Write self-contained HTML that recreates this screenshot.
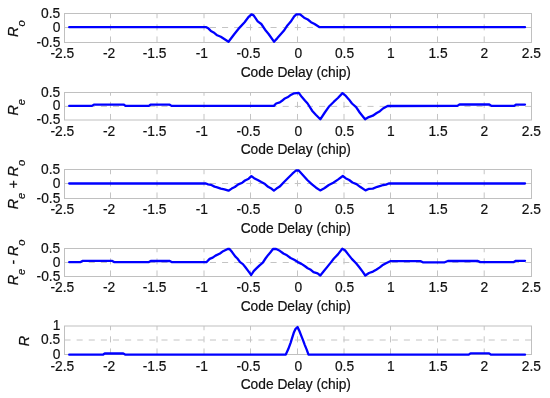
<!DOCTYPE html><html><head><meta charset="utf-8"><style>html,body{margin:0;padding:0;background:#fff;}svg{display:block}text{font-family:"Liberation Sans",Arial,sans-serif;fill:#111;stroke:#111;stroke-width:0.2px}</style></head><body>
<svg width="550" height="398" viewBox="0 0 550 398">
<rect width="550" height="398" fill="#fff"/>
<g stroke="#c4c4c4" stroke-width="1" stroke-dasharray="6.06 6.06" fill="none"><line x1="110.50" y1="42.5" x2="110.50" y2="13.5"/><line x1="157.00" y1="42.5" x2="157.00" y2="13.5"/><line x1="204.00" y1="42.5" x2="204.00" y2="13.5"/><line x1="250.50" y1="42.5" x2="250.50" y2="13.5"/><line x1="297.50" y1="42.5" x2="297.50" y2="13.5"/><line x1="344.00" y1="42.5" x2="344.00" y2="13.5"/><line x1="390.50" y1="42.5" x2="390.50" y2="13.5"/><line x1="437.50" y1="42.5" x2="437.50" y2="13.5"/><line x1="484.20" y1="42.5" x2="484.20" y2="13.5"/><line x1="64.5" y1="27.5" x2="531.5" y2="27.5"/></g>
<rect x="64.5" y="13.5" width="467.0" height="29.0" fill="none" stroke="#c0c0c0" stroke-width="1"/>
<text transform="translate(60.30,17.50) scale(1,1.04)" font-size="13.8" text-anchor="end">0.5</text>
<text transform="translate(60.30,31.50) scale(1,1.04)" font-size="13.8" text-anchor="end">0</text>
<text transform="translate(60.30,46.50) scale(1,1.04)" font-size="13.8" text-anchor="end">-0.5</text>
<text transform="translate(62.40,57.80) scale(1,1.04)" font-size="13.8" text-anchor="middle">-2.5</text>
<text transform="translate(109.07,57.80) scale(1,1.04)" font-size="13.8" text-anchor="middle">-2</text>
<text transform="translate(154.59,57.80) scale(1,1.04)" font-size="13.8" text-anchor="middle">-1.5</text>
<text transform="translate(201.91,57.80) scale(1,1.04)" font-size="13.8" text-anchor="middle">-1</text>
<text transform="translate(248.43,57.80) scale(1,1.04)" font-size="13.8" text-anchor="middle">-0.5</text>
<text transform="translate(298.25,57.80) scale(1,1.04)" font-size="13.8" text-anchor="middle">0</text>
<text transform="translate(344.47,57.80) scale(1,1.04)" font-size="13.8" text-anchor="middle">0.5</text>
<text transform="translate(390.79,57.80) scale(1,1.04)" font-size="13.8" text-anchor="middle">1</text>
<text transform="translate(438.01,57.80) scale(1,1.04)" font-size="13.8" text-anchor="middle">1.5</text>
<text transform="translate(484.38,57.80) scale(1,1.04)" font-size="13.8" text-anchor="middle">2</text>
<text transform="translate(531.45,57.80) scale(1,1.04)" font-size="13.8" text-anchor="middle">2.5</text>
<text transform="translate(295.80,76.50) scale(1,1.04)" font-size="13.8" text-anchor="middle">Code Delay (chip)</text>
<text transform="translate(17.8,28.6) scale(1,1.04) rotate(-90)" font-size="13.8" text-anchor="middle" font-style="italic">R<tspan font-size="10.8" dy="6.9">o</tspan></text>
<g stroke="#c4c4c4" stroke-width="1" stroke-dasharray="6.06 6.06" fill="none"><line x1="110.50" y1="120.0" x2="110.50" y2="92.5"/><line x1="157.00" y1="120.0" x2="157.00" y2="92.5"/><line x1="204.00" y1="120.0" x2="204.00" y2="92.5"/><line x1="250.50" y1="120.0" x2="250.50" y2="92.5"/><line x1="297.50" y1="120.0" x2="297.50" y2="92.5"/><line x1="344.00" y1="120.0" x2="344.00" y2="92.5"/><line x1="390.50" y1="120.0" x2="390.50" y2="92.5"/><line x1="437.50" y1="120.0" x2="437.50" y2="92.5"/><line x1="484.20" y1="120.0" x2="484.20" y2="92.5"/><line x1="64.5" y1="106.4" x2="531.5" y2="106.4"/></g>
<rect x="64.5" y="92.5" width="467.0" height="27.5" fill="none" stroke="#c0c0c0" stroke-width="1"/>
<text transform="translate(60.30,96.50) scale(1,1.04)" font-size="13.8" text-anchor="end">0.5</text>
<text transform="translate(60.30,110.40) scale(1,1.04)" font-size="13.8" text-anchor="end">0</text>
<text transform="translate(60.30,124.00) scale(1,1.04)" font-size="13.8" text-anchor="end">-0.5</text>
<text transform="translate(62.40,135.80) scale(1,1.04)" font-size="13.8" text-anchor="middle">-2.5</text>
<text transform="translate(109.07,135.80) scale(1,1.04)" font-size="13.8" text-anchor="middle">-2</text>
<text transform="translate(154.59,135.80) scale(1,1.04)" font-size="13.8" text-anchor="middle">-1.5</text>
<text transform="translate(201.91,135.80) scale(1,1.04)" font-size="13.8" text-anchor="middle">-1</text>
<text transform="translate(248.43,135.80) scale(1,1.04)" font-size="13.8" text-anchor="middle">-0.5</text>
<text transform="translate(298.25,135.80) scale(1,1.04)" font-size="13.8" text-anchor="middle">0</text>
<text transform="translate(344.47,135.80) scale(1,1.04)" font-size="13.8" text-anchor="middle">0.5</text>
<text transform="translate(390.79,135.80) scale(1,1.04)" font-size="13.8" text-anchor="middle">1</text>
<text transform="translate(438.01,135.80) scale(1,1.04)" font-size="13.8" text-anchor="middle">1.5</text>
<text transform="translate(484.38,135.80) scale(1,1.04)" font-size="13.8" text-anchor="middle">2</text>
<text transform="translate(531.45,135.80) scale(1,1.04)" font-size="13.8" text-anchor="middle">2.5</text>
<text transform="translate(295.80,154.00) scale(1,1.04)" font-size="13.8" text-anchor="middle">Code Delay (chip)</text>
<text transform="translate(17.8,107.2) scale(1,1.04) rotate(-90)" font-size="13.8" text-anchor="middle" font-style="italic">R<tspan font-size="10.8" dy="6.9">e</tspan></text>
<g stroke="#c4c4c4" stroke-width="1" stroke-dasharray="6.06 6.06" fill="none"><line x1="110.50" y1="198.5" x2="110.50" y2="169.5"/><line x1="157.00" y1="198.5" x2="157.00" y2="169.5"/><line x1="204.00" y1="198.5" x2="204.00" y2="169.5"/><line x1="250.50" y1="198.5" x2="250.50" y2="169.5"/><line x1="297.50" y1="198.5" x2="297.50" y2="169.5"/><line x1="344.00" y1="198.5" x2="344.00" y2="169.5"/><line x1="390.50" y1="198.5" x2="390.50" y2="169.5"/><line x1="437.50" y1="198.5" x2="437.50" y2="169.5"/><line x1="484.20" y1="198.5" x2="484.20" y2="169.5"/><line x1="64.5" y1="183.5" x2="531.5" y2="183.5"/></g>
<rect x="64.5" y="169.5" width="467.0" height="29.0" fill="none" stroke="#c0c0c0" stroke-width="1"/>
<text transform="translate(60.30,173.50) scale(1,1.04)" font-size="13.8" text-anchor="end">0.5</text>
<text transform="translate(60.30,187.50) scale(1,1.04)" font-size="13.8" text-anchor="end">0</text>
<text transform="translate(60.30,202.50) scale(1,1.04)" font-size="13.8" text-anchor="end">-0.5</text>
<text transform="translate(62.40,213.80) scale(1,1.04)" font-size="13.8" text-anchor="middle">-2.5</text>
<text transform="translate(109.07,213.80) scale(1,1.04)" font-size="13.8" text-anchor="middle">-2</text>
<text transform="translate(154.59,213.80) scale(1,1.04)" font-size="13.8" text-anchor="middle">-1.5</text>
<text transform="translate(201.91,213.80) scale(1,1.04)" font-size="13.8" text-anchor="middle">-1</text>
<text transform="translate(248.43,213.80) scale(1,1.04)" font-size="13.8" text-anchor="middle">-0.5</text>
<text transform="translate(298.25,213.80) scale(1,1.04)" font-size="13.8" text-anchor="middle">0</text>
<text transform="translate(344.47,213.80) scale(1,1.04)" font-size="13.8" text-anchor="middle">0.5</text>
<text transform="translate(390.79,213.80) scale(1,1.04)" font-size="13.8" text-anchor="middle">1</text>
<text transform="translate(438.01,213.80) scale(1,1.04)" font-size="13.8" text-anchor="middle">1.5</text>
<text transform="translate(484.38,213.80) scale(1,1.04)" font-size="13.8" text-anchor="middle">2</text>
<text transform="translate(531.45,213.80) scale(1,1.04)" font-size="13.8" text-anchor="middle">2.5</text>
<text transform="translate(295.80,232.50) scale(1,1.04)" font-size="13.8" text-anchor="middle">Code Delay (chip)</text>
<text transform="translate(17.8,184.6) scale(1,1.04) rotate(-90)" font-size="13.8" text-anchor="middle" font-style="italic">R<tspan font-size="10.8" dy="6.9">e</tspan><tspan dy="-6.9"> + R</tspan><tspan font-size="10.8" dy="6.9">o</tspan></text>
<g stroke="#c4c4c4" stroke-width="1" stroke-dasharray="6.06 6.06" fill="none"><line x1="110.50" y1="276.5" x2="110.50" y2="248.5"/><line x1="157.00" y1="276.5" x2="157.00" y2="248.5"/><line x1="204.00" y1="276.5" x2="204.00" y2="248.5"/><line x1="250.50" y1="276.5" x2="250.50" y2="248.5"/><line x1="297.50" y1="276.5" x2="297.50" y2="248.5"/><line x1="344.00" y1="276.5" x2="344.00" y2="248.5"/><line x1="390.50" y1="276.5" x2="390.50" y2="248.5"/><line x1="437.50" y1="276.5" x2="437.50" y2="248.5"/><line x1="484.20" y1="276.5" x2="484.20" y2="248.5"/><line x1="64.5" y1="262.5" x2="531.5" y2="262.5"/></g>
<rect x="64.5" y="248.5" width="467.0" height="28.0" fill="none" stroke="#c0c0c0" stroke-width="1"/>
<text transform="translate(60.30,252.50) scale(1,1.04)" font-size="13.8" text-anchor="end">0.5</text>
<text transform="translate(60.30,266.50) scale(1,1.04)" font-size="13.8" text-anchor="end">0</text>
<text transform="translate(60.30,280.50) scale(1,1.04)" font-size="13.8" text-anchor="end">-0.5</text>
<text transform="translate(62.40,291.80) scale(1,1.04)" font-size="13.8" text-anchor="middle">-2.5</text>
<text transform="translate(109.07,291.80) scale(1,1.04)" font-size="13.8" text-anchor="middle">-2</text>
<text transform="translate(154.59,291.80) scale(1,1.04)" font-size="13.8" text-anchor="middle">-1.5</text>
<text transform="translate(201.91,291.80) scale(1,1.04)" font-size="13.8" text-anchor="middle">-1</text>
<text transform="translate(248.43,291.80) scale(1,1.04)" font-size="13.8" text-anchor="middle">-0.5</text>
<text transform="translate(298.25,291.80) scale(1,1.04)" font-size="13.8" text-anchor="middle">0</text>
<text transform="translate(344.47,291.80) scale(1,1.04)" font-size="13.8" text-anchor="middle">0.5</text>
<text transform="translate(390.79,291.80) scale(1,1.04)" font-size="13.8" text-anchor="middle">1</text>
<text transform="translate(438.01,291.80) scale(1,1.04)" font-size="13.8" text-anchor="middle">1.5</text>
<text transform="translate(484.38,291.80) scale(1,1.04)" font-size="13.8" text-anchor="middle">2</text>
<text transform="translate(531.45,291.80) scale(1,1.04)" font-size="13.8" text-anchor="middle">2.5</text>
<text transform="translate(295.80,310.50) scale(1,1.04)" font-size="13.8" text-anchor="middle">Code Delay (chip)</text>
<text transform="translate(17.8,262.4) scale(1,1.04) rotate(-90)" font-size="13.8" text-anchor="middle" font-style="italic">R<tspan font-size="10.8" dy="6.9">e</tspan><tspan dy="-6.9"> - R</tspan><tspan font-size="10.8" dy="6.9">o</tspan></text>
<g stroke="#c4c4c4" stroke-width="1" stroke-dasharray="6.06 6.06" fill="none"><line x1="110.50" y1="354.5" x2="110.50" y2="326.0"/><line x1="157.00" y1="354.5" x2="157.00" y2="326.0"/><line x1="204.00" y1="354.5" x2="204.00" y2="326.0"/><line x1="250.50" y1="354.5" x2="250.50" y2="326.0"/><line x1="297.50" y1="354.5" x2="297.50" y2="326.0"/><line x1="344.00" y1="354.5" x2="344.00" y2="326.0"/><line x1="390.50" y1="354.5" x2="390.50" y2="326.0"/><line x1="437.50" y1="354.5" x2="437.50" y2="326.0"/><line x1="484.20" y1="354.5" x2="484.20" y2="326.0"/><line x1="64.5" y1="340.0" x2="531.5" y2="340.0"/></g>
<rect x="64.5" y="326.0" width="467.0" height="28.5" fill="none" stroke="#c0c0c0" stroke-width="1"/>
<text transform="translate(60.30,330.00) scale(1,1.04)" font-size="13.8" text-anchor="end">1</text>
<text transform="translate(60.30,344.00) scale(1,1.04)" font-size="13.8" text-anchor="end">0.5</text>
<text transform="translate(60.30,358.50) scale(1,1.04)" font-size="13.8" text-anchor="end">0</text>
<text transform="translate(62.40,370.50) scale(1,1.04)" font-size="13.8" text-anchor="middle">-2.5</text>
<text transform="translate(109.07,370.50) scale(1,1.04)" font-size="13.8" text-anchor="middle">-2</text>
<text transform="translate(154.59,370.50) scale(1,1.04)" font-size="13.8" text-anchor="middle">-1.5</text>
<text transform="translate(201.91,370.50) scale(1,1.04)" font-size="13.8" text-anchor="middle">-1</text>
<text transform="translate(248.43,370.50) scale(1,1.04)" font-size="13.8" text-anchor="middle">-0.5</text>
<text transform="translate(298.25,370.50) scale(1,1.04)" font-size="13.8" text-anchor="middle">0</text>
<text transform="translate(344.47,370.50) scale(1,1.04)" font-size="13.8" text-anchor="middle">0.5</text>
<text transform="translate(390.79,370.50) scale(1,1.04)" font-size="13.8" text-anchor="middle">1</text>
<text transform="translate(438.01,370.50) scale(1,1.04)" font-size="13.8" text-anchor="middle">1.5</text>
<text transform="translate(484.38,370.50) scale(1,1.04)" font-size="13.8" text-anchor="middle">2</text>
<text transform="translate(531.45,370.50) scale(1,1.04)" font-size="13.8" text-anchor="middle">2.5</text>
<text transform="translate(295.80,388.50) scale(1,1.04)" font-size="13.8" text-anchor="middle">Code Delay (chip)</text>
<text transform="translate(29.0,341.0) scale(1,1.04) rotate(-90)" font-size="13.8" text-anchor="middle" font-style="italic">R</text>
<g fill="none" stroke="#0000ff" stroke-width="2.3" stroke-linejoin="round" stroke-linecap="round"><polyline points="69.2,27.2 206.3,27.2 208.6,28.6 210.9,31 213.6,32.4 217.2,35.3 220.8,36.7 223.5,38.5 228.5,41.7 234.4,34 239.6,27.6 244.6,22.2 248.7,16.8 251.4,14.3 253.6,15.4 257.7,21.3 261.3,24 265.9,30.8 268.6,34 274,41.7 277.4,38.1 283.8,30.8 287.4,25.4 290.6,21.8 294.2,16.3 296.4,14.3 300.1,14.3 304.1,17.7 307.8,19.5 311,22.2 314.6,24 319.6,27.2 525,27.2"/><polyline points="69.2,105.9 91.9,105.9 93.9,104.6 123.6,104.6 125.7,105.9 148.8,105.9 150.5,104.7 169.7,104.7 171.6,105.9 273.9,105.9 276.1,103.5 279.8,102.4 282,100.8 284.3,98.8 287.5,97.3 290.2,95.3 294.2,93.3 298.8,92.9 301.9,97.1 305.1,100.8 307.6,103.5 312.1,110.7 315.8,114.8 320.3,119.3 324.8,112.5 329.3,106.2 333.9,101.7 337.9,98 342.5,93.1 345.2,95.3 348.9,99.4 352,103.5 356.1,107.1 359.7,112.5 365.1,119.3 368.8,117.1 372.8,115.7 376.7,113 379.9,111.2 383,108.5 387.6,106 457.3,105.9 459.5,104.5 489.3,104.5 491.5,105.9 514,105.9 516.2,104.6 525,104.6"/><polyline points="69.2,183.5 205.9,183.5 208.1,184.3 210.9,184.8 214.5,186.6 217.2,187.3 220.8,188.6 224.4,189.3 228.5,190.7 231.7,188.6 234.8,187 238.3,184.4 242.3,182.7 245,180.5 248.7,178.7 251.4,176.1 254.1,178.2 257.7,180 261.3,182.1 265,184.1 268.1,186.8 271.7,188.8 273.9,190.6 276.5,188.6 279.7,186.6 283.8,182.3 288.3,177.8 292.4,173.7 296,170.5 298.7,170.5 302.8,175 307.3,180 311.7,184.1 316.1,187.7 320.2,190.4 324.3,188.2 328.8,185 333.3,182.7 337.9,179.6 342.8,176 345.6,178.2 349.2,180 352.4,182.5 356.5,184.1 360.1,186.8 365.5,190.4 369.1,188.8 372.8,188.6 377.3,186.8 380.5,185.9 383.2,185 386,184.6 388.7,183.5 525,183.5"/><polyline points="69.2,262.2 80.2,262.2 82.4,260.9 112.3,260.9 114.5,262.2 148.5,262.2 150.7,261 169.8,261 172,262.2 206.4,262.2 209.6,258.9 212.7,257.6 215.5,255.6 220,253.5 223.1,251.2 227.7,249 229.5,249 232.1,252.1 235.2,256.4 237.4,258.5 240.1,262.1 242.9,264.1 245.6,267.5 248.3,271.1 251.2,275 253.7,271.1 256.4,268.4 259.6,265.3 262.8,262.6 265.5,258.5 268.2,254.9 270.3,252.5 273,249 276.1,249 279.8,250.8 283.4,253.5 287,255.3 290.6,258 294.2,259.8 297.9,262.1 301.5,263.9 304.7,266 307.7,268.2 310.8,269.8 313.5,272.1 317.6,273.4 320.3,275.5 323.9,271.1 327.5,266.6 331.1,262.1 333.9,258.5 337.9,254.4 342.3,248.8 345,250.3 348.6,254.9 351.8,258.9 356.3,263.5 359.5,267.5 362.6,271.6 365.3,275.5 369,273 373,271.6 376.2,269.8 379.8,267.4 382.3,265.3 386,263.2 390.2,261.2 420.8,261.2 422.8,262.3 444.7,262.3 447.9,261 477.4,260.8 480.2,262.1 513.8,262.1 515.9,260.8 525,260.8"/><polyline points="69.2,354.7 102.9,354.7 104.7,353.5 123.3,353.5 125.5,354.7 285.8,354.6 288.3,349.1 290.6,342.8 292,338.3 293.75,332.8 295.6,328.8 297.55,327 299.4,331 301.2,335.6 303,340.1 304.85,345.1 306.7,349.6 308.5,354.6 468.7,354.7 470.5,353.3 489.1,353.3 490.9,354.7 525,354.7"/></g>
</svg></body></html>
